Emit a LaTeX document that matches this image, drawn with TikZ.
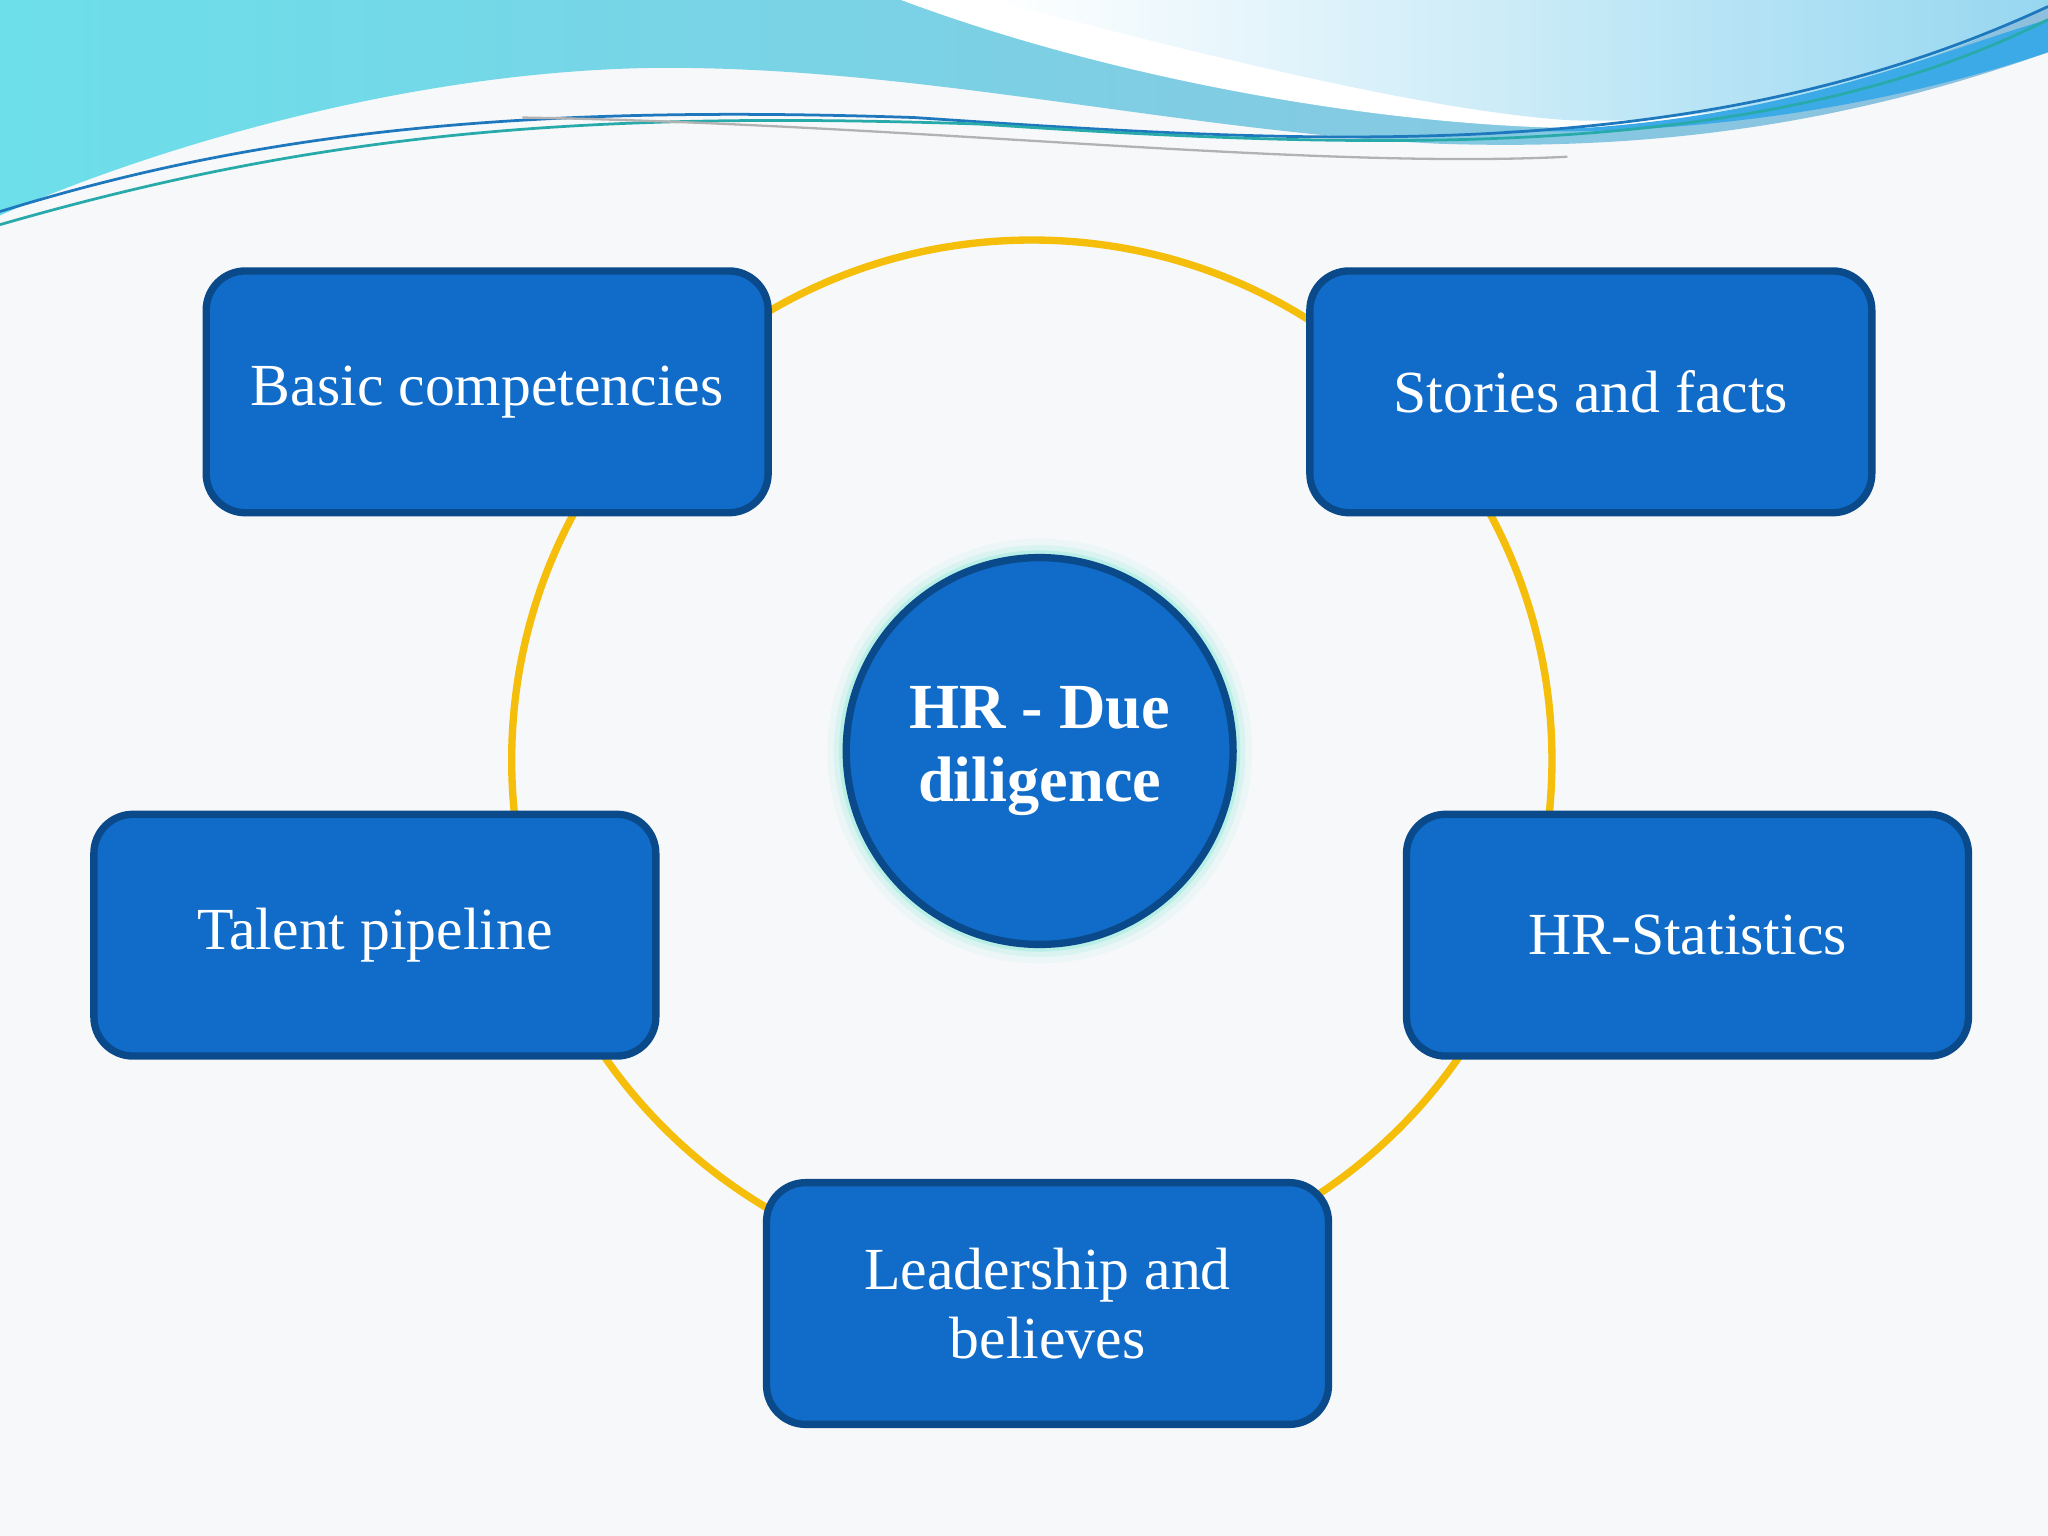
\documentclass[tikz,border=0pt]{standalone}
\usepackage{fontspec}
\setmainfont{Liberation Serif}
\begin{document}
\begin{tikzpicture}[x=0.01cm,y=-0.01cm,
  box/.style={draw=boxline,line width=1.6pt,fill=boxfill,rounded corners=0.3cm,minimum width=4.3cm,minimum height=1.85cm,text=white,font=\fontsize{13}{15}\selectfont,align=center,inner sep=0pt}]
\definecolor{boxfill}{HTML}{106CC8}
\definecolor{boxline}{HTML}{0B4A8A}
\definecolor{ring}{HTML}{F5BE0A}
\definecolor{cyanA}{HTML}{6CDFEA}
\definecolor{blueA}{HTML}{8EC0DE}
\definecolor{bg}{HTML}{F7F8FA}
\definecolor{lightblue}{HTML}{96D7F0}
\definecolor{midblue}{HTML}{3CAAE6}
\definecolor{lineA}{HTML}{1E78BE}
\definecolor{lineB}{HTML}{28AAAA}
\definecolor{glow}{HTML}{6EE6D2}
\useasboundingbox (0,0) rectangle (1568,1176);
\fill[bg] (0,0) rectangle (1568,1176);
% top waves
\shade[left color=cyanA,right color=blueA] (0,0) -- (1568,0) -- (1568,40) .. controls (1400,100) and (1250,115) .. (1100,110) .. controls (900,100) and (700,50) .. (500,52) .. controls (300,55) and (100,120) .. (0,165) -- cycle;
\fill[white] (690,0) .. controls (850,60) and (1050,95) .. (1200,98) .. controls (1350,100) and (1500,40) .. (1568,0) -- cycle;
\shade[left color=white,right color=lightblue] (760,0) .. controls (950,50) and (1100,85) .. (1200,92) .. controls (1350,98) and (1500,40) .. (1568,5) -- (1568,0) -- cycle;
\fill[midblue] (1150,100) .. controls (1350,100) and (1480,40) .. (1568,15) -- (1568,40) .. controls (1450,80) and (1300,105) .. (1150,100) -- cycle;
\draw[lineA,line width=0.6pt] (0,162) .. controls (200,100) and (400,80) .. (700,90) .. controls (1000,110) and (1300,130) .. (1568,5);
\draw[lineB,line width=0.6pt] (0,172) .. controls (250,100) and (450,85) .. (750,95) .. controls (1050,115) and (1350,125) .. (1568,15);
\draw[gray!60,line width=0.5pt] (400,90) .. controls (700,95) and (1000,130) .. (1200,120);
% ring
\node[circle,draw=ring,line width=1.6pt,minimum size=7.96cm,inner sep=0pt] (ring) at (790,582) {};
% center glow
\foreach \r/\o in {3.25/0.08,3.15/0.15,3.07/0.3}{\fill[glow,opacity=\o] (796,575) circle (\r cm/2);}
\node[circle,draw=boxline,line width=1.6pt,fill=boxfill,minimum size=2.96cm,inner sep=0pt,text=white,align=center,font=\bfseries\fontsize{14}{16}\selectfont] (c) at (796,575) {HR - Due\\diligence};
\node[box] (b1) at (373,300) {Basic competencies};
\node[box] (b2) at (1218,300) {Stories and facts};
\node[box] (b3) at (287,716) {Talent pipeline};
\node[box] (b4) at (1292,716) {HR-Statistics};
\node[box] (b5) at (802,998) {Leadership and\\believes};
\end{tikzpicture}
\end{document}
